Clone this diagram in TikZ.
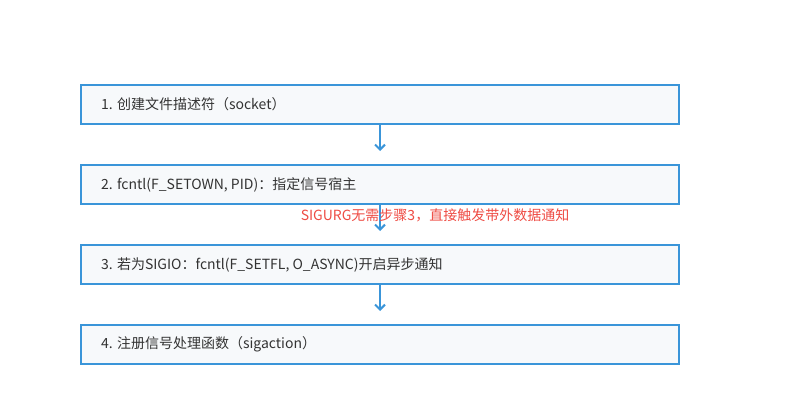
\documentclass[tikz,border=0pt]{standalone}
\usepackage{fontspec}
\setmainfont{Noto Sans CJK SC}
\usetikzlibrary{arrows.meta,calc}
\definecolor{boxblue}{HTML}{3A95D9}
\definecolor{boxfill}{HTML}{F7F9FB}
\definecolor{txt}{HTML}{333333}
\definecolor{note}{HTML}{EE4B43}
\begin{document}
\begin{tikzpicture}[x=1pt,y=1pt,
  stepbox/.style={draw=boxblue,fill=boxfill,line width=2pt,minimum width=598pt,minimum height=39pt,inner sep=0pt},
  steptext/.style={anchor=west,text=txt,font=\fontsize{14}{16}\selectfont,inner sep=0pt},
  arr/.style={draw=boxblue,line width=2pt,-{Straight Barb[length=5pt,width=10pt,line width=2pt]},shorten >=13pt},
  notetext/.style={text=note,font=\fontsize{14}{16}\selectfont,inner sep=0pt}]
\useasboundingbox (0,0) rectangle (800,400);
\node[stepbox] (b1) at (380,295.5) {};
\node[stepbox] (b2) at (380,215.5) {};
\node[stepbox] (b3) at (380,135.5) {};
\node[stepbox] (b4) at (380,55.5) {};
\node[steptext] (t1) at (101,295.5) {1. 创建文件描述符（socket）};
\node[steptext] (t2) at (101,215.5) {2. fcntl(F\_SETOWN, PID)：指定信号宿主};
\node[steptext] (t3) at (101,135.5) {3. 若为SIGIO：fcntl(F\_SETFL, O\_ASYNC)开启异步通知};
\node[steptext] (t4) at (101,55.5) {4. 注册信号处理函数（sigaction）};
\draw[arr] (b1.south) -- (b2.north);
\draw[arr] (b2.south) -- (b3.north);
\draw[arr] (b3.south) -- (b4.north);
\node[notetext] (n1) at (435,185) {SIGURG无需步骤3，直接触发带外数据通知};
\end{tikzpicture}
\end{document}
